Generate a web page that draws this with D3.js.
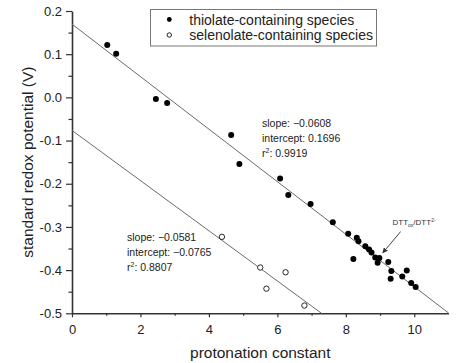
<!DOCTYPE html>
<html>
<head>
<meta charset="utf-8">
<script src="https://cdn.jsdelivr.net/npm/d3@7"></script>
<style>
  body { margin: 0; background: #fff; }
  text { font-family: "Liberation Sans", Arial, sans-serif; }
</style>
</head>
<body>
<div id="chart"></div>
<script>
  // thiolate-containing species (filled circles)
  const thiolX = [1.03, 1.29, 2.45, 2.78, 4.65, 4.89, 6.08, 6.32, 6.97, 7.62, 8.07, 8.32, 8.37, 8.22,
    8.57, 8.68, 8.75, 8.86, 8.98, 8.93, 9.24, 9.33, 9.31, 9.65, 9.78, 9.91, 10.04];
  const thiolY = [0.121, 0.101, -0.004, -0.013, -0.087, -0.154, -0.188, -0.226, -0.247, -0.289, -0.316, -0.325, -0.333, -0.374,
    -0.345, -0.352, -0.359, -0.371, -0.372, -0.383, -0.381, -0.402, -0.420, -0.415, -0.401, -0.430, -0.439];

  // selenolate-containing species (open circles)
  const selenX = [4.38, 5.50, 6.24, 5.68, 6.79];
  const selenY = [-0.323, -0.394, -0.405, -0.443, -0.482];

  // linear fits
  const fitSlope = [-0.0608, -0.0581];
  const fitIntercept = [0.1696, -0.0765];
  const fitR2 = ["0.9919", "0.8807"];

  const xTicks = [0, 2, 4, 6, 8, 10];
  const yTicks = [0.2, 0.1, 0.0, -0.1, -0.2, -0.3, -0.4, -0.5];

  const width = 474, height = 363;

  const svg = d3.select("#chart")
    .append("svg")
    .attr("width", width)
    .attr("height", height);

  // scales
  const x = d3.scaleLinear().domain([0, 11]).range([72, 448.5]);
  const y = d3.scaleLinear().domain([-0.5, 0.2]).range([313.3, 11]);

  const axisColor = "#333";

  // minor ticks first, then major ticks with labels
  svg.append("g")
    .attr("transform", `translate(0,${y(-0.5)})`)
    .call(d3.axisBottom(x).tickValues(d3.range(1, 11, 2)).tickSize(2.5).tickFormat(""))
    .call(g => g.select(".domain").remove())
    .selectAll("line").attr("stroke", axisColor).attr("stroke-width", 1.2);

  svg.append("g")
    .attr("transform", `translate(${x(0)},0)`)
    .call(d3.axisLeft(y).tickValues(d3.range(-0.45, 0.2, 0.1)).tickSize(3.5).tickFormat(""))
    .call(g => g.select(".domain").remove())
    .selectAll("line").attr("stroke", axisColor).attr("stroke-width", 1.2);

  const xAxis = svg.append("g")
    .attr("transform", `translate(0,${y(-0.5)})`)
    .call(d3.axisBottom(x).tickValues(xTicks).tickSize(4).tickSizeOuter(0).tickPadding(7.5)
      .tickFormat(d3.format("d")));

  const yAxis = svg.append("g")
    .attr("transform", `translate(${x(0)},0)`)
    .call(d3.axisLeft(y).tickValues(yTicks).tickSize(6).tickSizeOuter(0).tickPadding(4)
      .tickFormat(d3.format(".1f")));

  [xAxis, yAxis].forEach(function(ax) {
    ax.select(".domain").attr("stroke", axisColor).attr("stroke-width", 1.6);
    ax.selectAll(".tick line").attr("stroke", axisColor).attr("stroke-width", 1.2);
    ax.selectAll(".tick text")
      .attr("fill", "#222")
      .style("font-size", "13px")
      .style("font-family", "'Liberation Sans', Arial, sans-serif");
  });
  // use a plain hyphen for negative labels like the original
  yAxis.selectAll(".tick text").text(d => d3.format(".1f")(d).replace("\u2212", "-"));

  // axis titles
  svg.append("text")
    .attr("x", x(5.5))
    .attr("y", 357.5)
    .attr("text-anchor", "middle")
    .attr("fill", "#222")
    .style("font-size", "15.5px")
    .text("protonation constant");

  svg.append("text")
    .attr("transform", `translate(32.5,${(y(0.2) + y(-0.5)) / 2}) rotate(-90)`)
    .attr("text-anchor", "middle")
    .attr("fill", "#222")
    .style("font-size", "15.5px")
    .text("standard redox potential (V)");

  // fit lines, clipped to the plot area
  const fitEnd = [11, (-0.5 - fitIntercept[1]) / fitSlope[1]];
  fitSlope.forEach(function(s, i) {
    svg.append("line")
      .attr("x1", x(0))
      .attr("y1", y(fitIntercept[i]))
      .attr("x2", x(fitEnd[i]))
      .attr("y2", y(fitIntercept[i] + s * fitEnd[i]))
      .attr("stroke", "#6a6a6a")
      .attr("stroke-width", 1);
  });

  // data points
  svg.selectAll(".thiol")
    .data(thiolX)
    .enter()
    .append("circle")
    .attr("class", "thiol")
    .attr("cx", d => x(d))
    .attr("cy", (d, i) => y(thiolY[i]))
    .attr("r", 3)
    .attr("fill", "#000");

  svg.selectAll(".selen")
    .data(selenX)
    .enter()
    .append("circle")
    .attr("class", "selen")
    .attr("cx", d => x(d))
    .attr("cy", (d, i) => y(selenY[i]))
    .attr("r", 2.7)
    .attr("fill", "#fff")
    .attr("stroke", "#111")
    .attr("stroke-width", 0.9);

  // fit statistics text
  function fitLabel(px, py, i) {
    const lines = [
      "slope: \u2212" + Math.abs(fitSlope[i]).toFixed(4),
      "intercept: " + (fitIntercept[i] < 0 ? "\u2212" : "") + Math.abs(fitIntercept[i]).toFixed(4)
    ];
    lines.forEach(function(t, k) {
      svg.append("text")
        .attr("x", px).attr("y", py + k * 15)
        .attr("fill", "#222")
        .style("font-size", "10.5px")
        .text(t);
    });
    const r = svg.append("text")
      .attr("x", px).attr("y", py + 30)
      .attr("fill", "#222")
      .style("font-size", "10.5px");
    r.append("tspan").text("r");
    r.append("tspan").attr("dy", -4).style("font-size", "7px").text("2");
    r.append("tspan").attr("dy", 4).text(": " + fitR2[i]);
  }
  fitLabel(262, 126.5, 0);
  fitLabel(127, 240.5, 1);

  // DTT annotation with arrow
  svg.append("defs").append("marker")
    .attr("id", "arrow")
    .attr("viewBox", "0 0 10 10")
    .attr("refX", 9).attr("refY", 5)
    .attr("markerWidth", 6).attr("markerHeight", 6)
    .attr("orient", "auto")
    .append("path")
    .attr("d", "M0,0 L10,5 L0,10 z")
    .attr("fill", "#333");

  svg.append("line")
    .attr("x1", 400.7).attr("y1", 231.5)
    .attr("x2", x(9.08)).attr("y2", y(-0.36))
    .attr("stroke", "#333")
    .attr("stroke-width", 0.9)
    .attr("marker-end", "url(#arrow)");

  const dtt = svg.append("text")
    .attr("x", 392.5).attr("y", 224.5)
    .attr("fill", "#333")
    .style("font-size", "8px");
  dtt.append("tspan").text("DTT");
  dtt.append("tspan").attr("dy", 2).style("font-size", "5px").text("ox");
  dtt.append("tspan").attr("dy", -2).text("/DTT");
  dtt.append("tspan").attr("dy", -3).style("font-size", "5px").text("2-");

  // legend
  const legend = svg.append("g");
  legend.append("rect")
    .attr("x", 150.5).attr("y", 9.5)
    .attr("width", 226).attr("height", 36.5)
    .attr("fill", "#fff")
    .attr("stroke", "#777")
    .attr("stroke-width", 1);
  legend.append("circle")
    .attr("cx", 169.3).attr("cy", 19.5).attr("r", 2.4).attr("fill", "#000");
  legend.append("circle")
    .attr("cx", 169.3).attr("cy", 35).attr("r", 2.2)
    .attr("fill", "#fff").attr("stroke", "#111").attr("stroke-width", 0.9);
  ["thiolate-containing species", "selenolate-containing species"].forEach(function(t, k) {
    legend.append("text")
      .attr("x", 189.3).attr("y", 24.5 + k * 15.5)
      .attr("fill", "#222")
      .style("font-size", "14px")
      .text(t);
  });
</script>
</body>
</html>
